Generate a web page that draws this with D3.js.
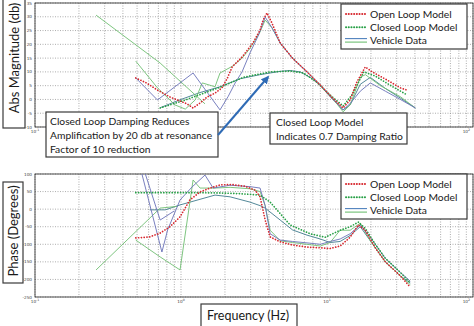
<!DOCTYPE html>
<html><head><meta charset="utf-8">
<script src="https://cdn.jsdelivr.net/npm/d3@7"></script>
<style>body{margin:0;background:#fff}svg{display:block}</style>
</head><body><svg id="c" width="474" height="326"></svg>
<script>
// ---- magnitude (dB) vs frequency (Hz) ----
const openMagF = [0.49,0.58,0.69,0.84,1.1,1.21,1.35,1.51,1.71,1.91,2.08,2.24,2.62,3.11,3.48,3.65,3.88,4.2,4.78,5.8,7.3,9.0,10.9,12.9,14.4,16.0,18.3,20.4,25.7,31.8,35.3];
const openMagV = [7.8,6.0,3.4,0.9,-1.6,-3.1,-1.3,0.9,2.3,4.2,7.8,11.8,15.4,20.5,25.2,28.8,31.4,27.7,20.5,15.0,10.0,5.2,0.5,-3.1,-0.2,6.3,11.8,10.0,7.1,4.2,3.4];
const closedMagF = [0.72,1.07,1.8,2.7,4.1,5.6,6.9,8.5,10.5,12.9,14.8,17.9,21.4,27.0,34.4];
const closedMagV = [-3.1,-0.2,4.2,8.1,10.0,10.3,9.6,6.3,1.6,-2.4,1.6,10.0,8.5,5.2,2.0];
const vehBlueMagF = [0.49,0.69,1.21,1.85,2.1,2.35,2.62,2.97,3.4,3.77,4.2,4.78,5.8,7.3,9.0,10.9,12.9,14.4,16.9,19.8,25.1,31.8,40.3];
const vehBlueMagV = [7.8,-0.2,9.6,-3.8,1.0,6.0,10.0,16.9,23.4,29.9,26.0,20.5,15.0,10.0,5.2,0.5,-3.8,-1.5,3.0,6.0,3.0,0.0,-3.1];
const vehGreenMagF = [0.49,0.69,0.91,1.07,1.25,1.4,1.71,1.85,2.24,2.62,2.97,3.48,3.77,4.2,4.78,5.8,7.3,9.0,10.9,12.9,14.4,16.9,18.3,23.2,31.8,40.3];
const vehGreenMagV = [13.9,4.2,-2.0,-3.5,-0.2,6.0,4.6,9.6,12.0,15.0,18.5,24.5,28.8,26.0,20.5,15.0,10.0,5.2,0.5,-4.5,-2.0,8.0,9.0,5.0,1.0,-3.1];
const vehGreen2MagF = [0.262,0.72,1.46];
const vehGreen2MagV = [30.6,13.2,-1.6];
const vehTealMagF = [0.72,1.0,1.35,1.85,2.54,3.48,4.78,5.59,6.55,7.67,9.0,10.5,12.9,14.4,16.9,19.8,25.1,31.8,40.3];
const vehTealMagV = [-3.0,0.0,2.5,4.6,7.5,9.0,10.2,10.5,10.0,8.0,5.2,1.0,-3.8,-2.0,5.5,8.0,4.0,0.5,-3.1];

// ---- phase (deg) vs frequency (Hz) ----
const openPhF = [0.49,0.61,0.72,0.84,0.985,1.15,1.35,1.58,1.85,2.24,2.75,3.22,3.48,3.77,4.08,4.78,5.8,7.3,9.0,10.5,12.3,14.4,16.4,18.3,21.4,25.1,31.8,37.2];
const openPhV = [-82,-79,-68,-50,-22,26,49,60,69,70,65,54,35,-31,-79,-93,-102,-108,-110,-112,-105,-80,-45,-60,-110,-150,-190,-222];
const closedPhF = [0.49,0.72,0.985,1.35,1.85,2.54,3.48,4.08,5.59,7.67,9.72,12.3,14.4,16.4,18.3,21.4,25.1,31.8,37.2];
const closedPhV = [47,47,47,47,46,44,40,20,-45,-70,-80,-60,-50,-37,-55,-100,-140,-180,-210];
const vehBluePhF = [0.54,0.74,0.81,0.985,1.19,1.46,1.66,2.17,2.97,3.48,3.77,4.08,4.78,5.8,7.3,9.0,10.5,12.3,14.4,16.9,19.8,25.1,31.8,37.2];
const vehBluePhV = [100,-122,-59,26,63,97,60,68,64,60,10,-70,-88,-92,-96,-100,-92,-85,-70,-45,-80,-140,-180,-205];
const vehBlue2PhF = [0.57,0.72,0.9];
const vehBlue2PhV = [100,-31,-5];
const vehGreenPhF = [0.49,0.72,0.985,1.21,1.35,1.71,2.17,2.97,3.48,3.77,4.08,4.78,5.8,7.3,9.0,10.5,12.3,14.4,16.9,19.8,25.1,31.8,37.2];
const vehGreenPhV = [-88,-136,-173,83,60,60,62,58,50,10,-60,-90,-95,-100,-105,-95,-60,-60,-40,-90,-150,-190,-215];
const vehGreen2PhF = [0.262,0.72,0.95];
const vehGreen2PhV = [-173,3,8];
const vehTealPhF = [0.61,0.78,0.985,1.35,1.71,2.17,2.97,3.48,3.77,4.78,5.8,7.3,9.0,10.5,12.3,14.4,16.9,19.8,25.1,31.8,37.2];
const vehTealPhV = [-2,-2,12,28,40,35,20,10,3,-31,-59,-74,-85,-95,-92,-75,-50,-90,-150,-190,-210];

// ---- axis ticks ----
const magTicks = [35,30,25,20,15,10,5,0,-5,-10];
const phaseTicks = [100,50,0,-50,-100,-150,-200,-250];
const decadeTicks = [0.1,1,10,100];
const decadeLabels = ["-1","0","1","2"];

const svg = d3.select("#c");
const left = 35, right = 473;

const x = d3.scaleLog().domain([0.1,100]).range([left,right]);
const yMag = d3.scaleLinear().domain([-10,35]).range([127,3]);
const yPh = d3.scaleLinear().domain([-250,100]).range([297,174]);

const minorTicks = [];
[0.1,1,10].forEach(d => { for (let k=1;k<=9;k++) minorTicks.push(d*k); });
minorTicks.push(100);

function panel(y, ticks) {
  const g = svg.append("g");
  const [y0,y1] = y.range();
  // dotted grid: every log division on x, every tick on y
  g.selectAll(".vg").data(minorTicks).join("line")
    .attr("x1",d=>x(d)).attr("x2",d=>x(d)).attr("y1",y1).attr("y2",y0)
    .attr("stroke","#8a8a8a").attr("stroke-width",0.7).attr("stroke-dasharray","1,1.5");
  g.selectAll(".hg").data(ticks).join("line")
    .attr("x1",left).attr("x2",right).attr("y1",d=>y(d)).attr("y2",d=>y(d))
    .attr("stroke","#8a8a8a").attr("stroke-width",0.7).attr("stroke-dasharray","1,1.5");
  g.append("rect").attr("x",left).attr("y",y1).attr("width",right-left).attr("height",y0-y1)
    .attr("fill","none").attr("stroke","#222").attr("stroke-width",0.8);
  g.selectAll(".yl").data(ticks).join("text")
    .attr("x",left-3).attr("y",d=>y(d)+1.5).attr("text-anchor","end")
    .attr("font-family","DejaVu Sans").attr("font-size",4.2).attr("fill","#444").text(d=>d);
  return g;
}

const gMag = panel(yMag, magTicks);
const gPh = panel(yPh, phaseTicks);

function decadeLabel(g, f, e, yy) {
  const last = f === 100;
  const t = g.append("text").attr("x",last ? x(f)-3 : x(f)).attr("y",yy)
    .attr("text-anchor",last ? "end" : "middle")
    .attr("font-family","DejaVu Sans").attr("font-size",4.2).attr("fill","#444");
  t.append("tspan").text("10");
  t.append("tspan").attr("dy",-1.8).attr("font-size",3.2).text(e);
}
// the middle decades of the magnitude axis sit under the note boxes
decadeLabel(gMag,0.1,"-1",133);
decadeLabel(gMag,100,"2",133);
decadeTicks.forEach((f,i)=>decadeLabel(gPh,f,decadeLabels[i],303));

const line = (y) => d3.line().x(d=>x(d[0])).y(d=>y(d[1]));
const zip = (a,b) => a.map((v,i)=>[v,b[i]]);

function draw(g, y, F, V, color, dotted, w) {
  g.append("path").datum(zip(F,V)).attr("d",line(y)).attr("fill","none")
    .attr("stroke",color).attr("stroke-width",w)
    .attr("stroke-dasharray",dotted?"0.1,2.7":null).attr("stroke-linecap",dotted?"round":"butt")
    .attr("stroke-linejoin","round");
}

const cRed="#d7282f", cGreenDot="#27a046", cBlue="#6a72b8", cGreen="#6fbe72", cTeal="#3f7a8c";
draw(gMag,yMag,vehTealMagF,vehTealMagV,cTeal,false,0.9);
draw(gMag,yMag,vehGreen2MagF,vehGreen2MagV,cGreen,false,0.9);
draw(gMag,yMag,vehGreenMagF,vehGreenMagV,cGreen,false,0.9);
draw(gMag,yMag,vehBlueMagF,vehBlueMagV,cBlue,false,0.9);
draw(gMag,yMag,closedMagF,closedMagV,cGreenDot,true,1.7);
draw(gMag,yMag,openMagF,openMagV,cRed,true,1.7);

draw(gPh,yPh,vehTealPhF,vehTealPhV,cTeal,false,0.9);
draw(gPh,yPh,vehGreen2PhF,vehGreen2PhV,cGreen,false,0.9);
draw(gPh,yPh,vehGreenPhF,vehGreenPhV,cGreen,false,0.9);
draw(gPh,yPh,vehBlue2PhF,vehBlue2PhV,cBlue,false,0.9);
draw(gPh,yPh,vehBluePhF,vehBluePhV,cBlue,false,0.9);
draw(gPh,yPh,closedPhF,closedPhV,cGreenDot,true,1.7);
draw(gPh,yPh,openPhF,openPhV,cRed,true,1.7);

// ---- overlay boxes ----
const font = "Lato, 'Open Sans', sans-serif";
function box(x0,y0,w,h,sw) {
  svg.append("rect").attr("x",x0).attr("y",y0).attr("width",w).attr("height",h)
    .attr("fill","#fff").attr("stroke","#3a3a3a").attr("stroke-width",sw||1.2);
}
function label(tx,ty,s,size,anchor) {
  return svg.append("text").attr("x",tx).attr("y",ty).attr("font-family",font)
    .attr("font-size",size).attr("fill","#1a1a1a").attr("text-anchor",anchor||"start").text(s);
}

function legend(x0,y0) {
  box(x0,y0,126,45);
  const rows = [["Open Loop Model",cRed,true],["Closed Loop Model",cGreenDot,true],["Vehicle Data",null,false]];
  rows.forEach((r,i)=>{
    const yy = y0+10+i*13.3;
    if (r[1]) {
      svg.append("line").attr("x1",x0+5).attr("x2",x0+26).attr("y1",yy).attr("y2",yy)
        .attr("stroke",r[1]).attr("stroke-width",2).attr("stroke-dasharray","0.1,2.6").attr("stroke-linecap","round");
    } else {
      svg.append("line").attr("x1",x0+4).attr("x2",x0+26).attr("y1",yy-2).attr("y2",yy-2).attr("stroke","#4f81bd").attr("stroke-width",1.1);
      svg.append("line").attr("x1",x0+4).attr("x2",x0+26).attr("y1",yy+1.5).attr("y2",yy+1.5).attr("stroke",cGreen).attr("stroke-width",1.1);
    }
    label(x0+29,yy+3.6,r[0],10.3);
  });
}
legend(341,4);
legend(341,174);

box(46,112,172,45);
label(50,125,"Closed Loop Damping Reduces",10.3);
label(50,139,"Amplification by 20 db at resonance",10.3);
label(50,153,"Factor of 10 reduction",10.3);

box(270,113,137,31);
label(276,126,"Closed Loop Model",10.3);
label(276,140,"Indicates 0.7 Damping Ratio",10.3);

// arrow pointing at the closed loop hump
svg.append("defs").append("marker").attr("id","ah").attr("viewBox","0 0 10 10").attr("refX",8).attr("refY",5)
  .attr("markerWidth",4).attr("markerHeight",4).attr("orient","auto")
  .append("path").attr("d","M0,0L10,5L0,10z").attr("fill","#2f6bb5");
svg.append("line").attr("x1",218).attr("y1",135).attr("x2",268).attr("y2",77)
  .attr("stroke","#2f6bb5").attr("stroke-width",2).attr("marker-end","url(#ah)");

box(201,304,96,24);
label(248,320,"Frequency (Hz)",12.5,"middle");

box(3,-12,22,140);
svg.append("text").attr("transform","translate(19,58) rotate(-90)").attr("text-anchor","middle")
  .attr("font-family",font).attr("font-size",13).attr("fill","#1a1a1a").text("Abs Magnitude (db)");
box(3,182,20,101);
svg.append("text").attr("transform","translate(18,231) rotate(-90)").attr("text-anchor","middle")
  .attr("font-family",font).attr("font-size",13).attr("fill","#1a1a1a").text("Phase (Degrees)");
</script></body></html>
